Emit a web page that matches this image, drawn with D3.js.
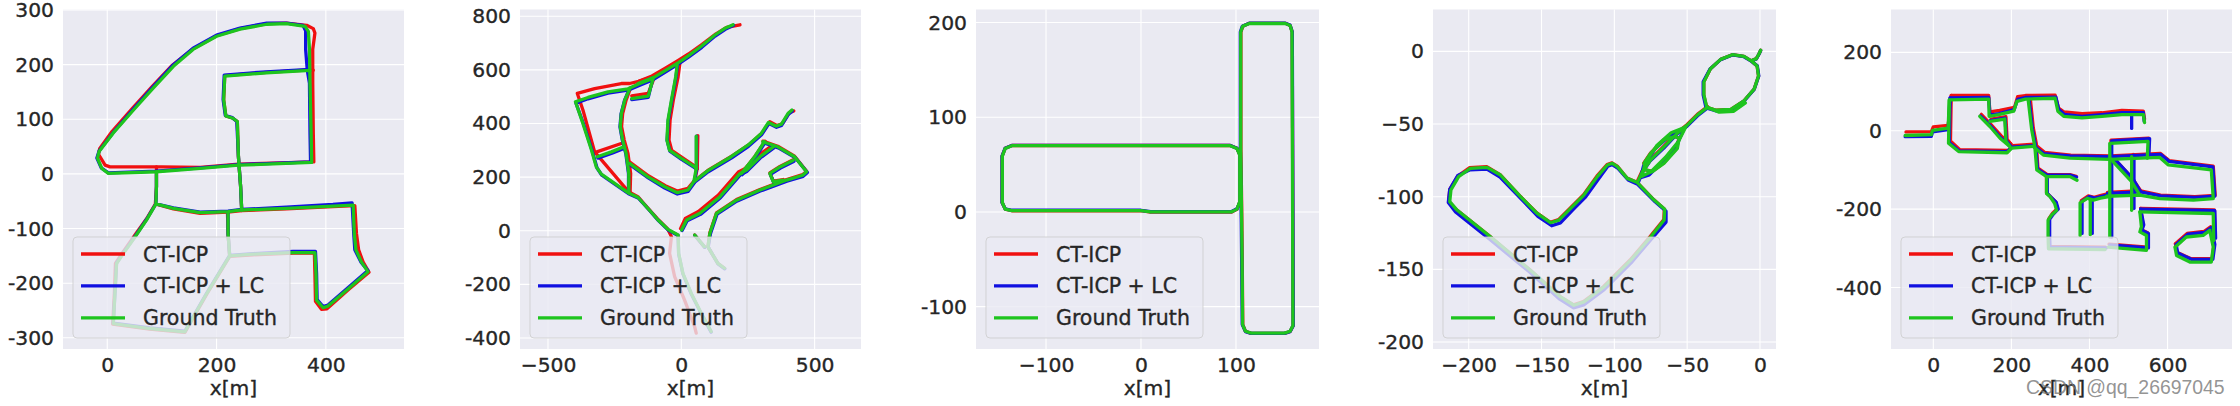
<!DOCTYPE html>
<html><head><meta charset="utf-8">
<script src="https://cdn.jsdelivr.net/npm/d3@7"></script>
<style>html,body{margin:0;padding:0;background:#fff;} svg{display:block;}</style>
</head><body><svg id="chart" width="2240" height="406"></svg>
<script>
// ---------------- DATA ----------------
const seriesNames = ["CT-ICP", "CT-ICP + LC", "Ground Truth"];

// Panel 1
const p1XLim = [-81, 543], p1YLim = [-320.5, 301];
const p1XTicks = [0, 200, 400], p1XLabels = ["0", "200", "400"];
const p1YTicks = [300, 200, 100, 0, -100, -200, -300];
const p1YLabels = ["300", "200", "100", "0", "-100", "-200", "-300"];
const p1Red = [
  [[99,13],[170,12],[240,18],[378,22],[377,75],[376,166],[376,228],[380,258],[377,266],[365,272],[328,276],[292,275],[243,266],[200,253],[157,229],[119,199],[82,160],[46,120],[9,78],[-14,46],[-16,36],[-4,16],[5,13],[99,13]],
  [[90,13],[90,-23],[88,-55],[121,-64],[170,-72],[221,-70],[246,-67],[328,-64],[413,-60],[453,-58],[456,-109],[460,-139],[468,-161],[479,-180],[441,-212],[402,-247],[392,-248],[381,-233],[380,-182],[379,-145],[340,-145],[267,-148],[224,-151],[182,-220],[142,-290],[78,-284],[10,-275],[13,-219],[15,-164],[28,-144],[52,-110],[72,-82],[88,-55]],
  [[224,-151],[221,-109],[220,-72]],
  [[246,-67],[244,-23],[241,17],[240,32],[238,96],[230,102],[217,106],[213,136],[215,180],[291,186],[363,190],[377,190]]
];
const p1Blue = [
  [[90,5],[170,11],[240,17],[372,22],[371,75],[370,166],[366,190],[363,228],[363,262],[358,272],[328,276],[292,276],[243,267],[200,254],[157,230],[121,200],[84,160],[48,119],[11,76],[-15,42],[-19,29],[-11,11],[2,2],[90,5]],
  [[90,5],[90,-23],[89,-55],[121,-62],[170,-70],[221,-68],[246,-65],[328,-61],[413,-56],[448,-53],[451,-109],[453,-139],[464,-161],[477,-177],[441,-208],[404,-240],[395,-243],[384,-230],[383,-182],[381,-142],[340,-142],[267,-146],[224,-149],[182,-218],[142,-288],[78,-282],[11,-273],[14,-219],[17,-163],[29,-145],[51,-114],[72,-83],[89,-55]],
  [[224,-149],[221,-109],[221,-71]],
  [[246,-65],[244,-23],[241,18],[240,32],[237,96],[229,103],[216,107],[212,136],[214,181],[291,187],[363,191],[367,191]]
];
const p1Green = [
  [[90,4],[170,10],[240,16],[374,21],[373,75],[371,166],[370,228],[368,261],[362,270],[328,275],[292,274],[243,265],[200,252],[157,228],[121,197],[84,157],[48,117],[11,75],[-15,41],[-18,29],[-10,10],[2,1],[90,4]],
  [[90,4],[90,-23],[89,-55],[121,-63],[170,-71],[221,-69],[246,-66],[328,-63],[413,-59],[450,-57],[452,-109],[455,-139],[465,-161],[477,-179],[441,-210],[404,-242],[395,-245],[383,-231],[382,-182],[380,-144],[340,-144],[267,-147],[224,-150],[182,-219],[142,-289],[78,-283],[11,-274],[14,-219],[17,-164],[29,-146],[51,-115],[72,-84],[89,-55]],
  [[224,-150],[221,-109],[221,-72]],
  [[246,-66],[244,-23],[241,17],[240,32],[238,96],[230,102],[217,106],[213,136],[215,179],[291,185],[363,189],[371,189]]
];

// Panel 2
const p2XLim = [-605, 674], p2YLim = [-441, 825];
const p2XTicks = [-500, 0, 500], p2XLabels = ["\u2212500", "0", "500"];
const p2YTicks = [800, 600, 400, 200, 0, -200, -400];
const p2YLabels = ["800", "600", "400", "200", "0", "-200", "-400"];
const p2Red = [
  [[56,-382],[50,-358],[12,-258],[-25,-171],[-44,-84],[-37,-22],[-52,8],[-89,44],[-127,86],[-163,127],[-198,146],[-219,170],[-325,294],[-369,450],[-390,512],[-325,530],[-225,549],[-194,549],[-160,557],[-110,577],[-60,606],[-10,636],[27,659],[78,695],[130,734],[170,758],[220,768]],
  [[-317,294],[-217,328]],
  [[-190,533],[-207,487],[-220,437],[-224,388],[-214,338],[-200,288],[-190,214],[-192,142]],
  [[-186,503],[-124,512],[-100,575],[-160,557]],
  [[-5,626],[-12,574],[-30,487],[-42,413],[-46,338],[-36,300],[8,270],[55,238],[60,232]],
  [[-192,255],[-122,204],[-60,168],[-15,148],[25,158],[50,188],[60,232]],
  [[62,355],[60,232]],
  [[50,186],[104,228],[192,280],[255,322],[305,366],[332,407],[360,392],[380,400],[405,440],[422,447]],
  [[-3,8],[15,46],[64,72],[139,133],[214,219],[240,232],[290,282],[342,318]],
  [[306,334],[362,315],[425,278],[470,222],[455,209],[395,191],[295,154],[207,116],[132,67],[107,-8],[100,-60],[137,-122],[162,-140]],
  [[314,334],[278,280],[228,216]],
  [[420,265],[370,240],[332,216],[345,185],[382,191]],
  [[50,-16],[87,-60]]
];
const p2Blue = [
  [[112,-378],[75,-310],[37,-235],[6,-161],[-10,-86],[-12,-18],[-48,2],[-85,37],[-123,80],[-160,121],[-198,138],[-298,207],[-316,234],[-334,297],[-366,396],[-395,476],[-350,492],[-275,513],[-200,524],[-160,541],[-110,561],[-60,592],[-10,622],[27,647],[77,684],[127,726],[165,751],[196,766]],
  [[-313,271],[-260,289],[-213,308]],
  [[-195,528],[-213,486],[-226,436],[-230,387],[-221,337],[-208,287],[-198,213],[-198,140]],
  [[-186,489],[-124,497],[-106,570],[-162,546]],
  [[-14,621],[-20,572],[-36,485],[-49,411],[-53,336],[-43,297],[1,266],[51,234],[57,229]],
  [[-194,247],[-124,197],[-62,159],[-15,137],[26,147],[49,179],[57,229]],
  [[57,353],[57,229]],
  [[49,180],[101,220],[189,272],[252,315],[302,359],[329,400],[357,386],[376,393],[401,433],[416,446]],
  [[3,1],[22,37],[72,61],[147,123],[222,209],[247,222],[297,272],[347,309]],
  [[308,328],[364,309],[428,272],[473,217],[457,203],[396,185],[296,148],[208,110],[134,62],[109,-12],[101,-61],[138,-124],[163,-142]],
  [[314,329],[277,272],[228,209]],
  [[423,259],[372,234],[334,210],[347,179],[384,185]],
  [[51,-18],[88,-62]]
];
const p2Green = [
  [[112,-376],[75,-308],[37,-233],[6,-159],[-10,-84],[-12,-16],[-50,5],[-87,40],[-125,83],[-162,124],[-200,142],[-300,211],[-319,238],[-337,301],[-369,400],[-397,481],[-350,497],[-275,518],[-200,529],[-162,546],[-112,566],[-62,596],[-12,626],[25,651],[75,688],[125,729],[162,754],[194,768]],
  [[-315,276],[-262,294],[-215,313]],
  [[-194,529],[-212,487],[-225,437],[-229,388],[-220,338],[-207,288],[-197,214],[-197,142]],
  [[-186,493],[-124,502],[-105,571],[-162,549]],
  [[-15,623],[-21,574],[-37,487],[-50,413],[-54,338],[-44,300],[0,270],[50,238],[56,232]],
  [[-194,251],[-125,201],[-62,164],[-15,142],[25,152],[47,183],[56,232]],
  [[56,353],[56,232]],
  [[47,183],[100,224],[187,276],[250,319],[300,363],[327,404],[356,390],[375,397],[400,437],[415,450]],
  [[1,3],[20,40],[70,65],[145,127],[220,213],[245,226],[295,276],[345,313]],
  [[306,332],[362,313],[425,276],[470,220],[455,207],[395,189],[295,152],[207,114],[132,65],[107,-10],[100,-60],[137,-122],[162,-140]],
  [[312,332],[275,276],[225,213]],
  [[420,263],[370,238],[332,214],[345,183],[382,189]],
  [[50,-16],[87,-60]]
];

// Panel 3
const p3XLim = [-173.7, 187.4], p3YLim = [-144.7, 213.8];
const p3XTicks = [-100, 0, 100], p3XLabels = ["\u2212100", "0", "100"];
const p3YTicks = [200, 100, 0, -100];
const p3YLabels = ["200", "100", "0", "-100"];
const p3Red = [
  [[10,-0.2],[95,-0.2],[101,2.8],[104.2,11],[104.2,60],[101,67.2],[94,70.2],[-136,70.2],[-143,67.2],[-146.2,59],[-146.2,10],[-143,3],[-136,1.3],[0,1.3],[10,-0.2]],
  [[105.2,66],[105.2,190],[107.2,196],[114,199.2],[152,199.2],[157,197],[159.2,190],[160.2,-120],[157,-126.2],[151,-128.2],[116,-128.2],[110,-126],[107.2,-119],[106.2,-10],[105.2,66]]
];
const p3Blue = [
  [[10,0.3],[95,0.3],[101,3.3],[104.3,11],[104.3,60],[101,67.3],[94,70.3],[-136,70.3],[-143,67.3],[-146.3,59],[-146.3,10],[-143,3.3],[-136,1.8],[0,1.8],[10,0.3]],
  [[104.6,66],[104.6,190],[106.6,196],[114,199.3],[152,199.3],[157,197.3],[159.3,190],[160.3,-120],[157,-126.3],[151,-128.3],[116,-128.3],[110,-126.3],[106.6,-119],[105.6,-10],[104.6,66]]
];
const p3Green = [
  [[10,0],[95,0],[101,3],[104,11],[104,60],[101,67],[94,70],[-136,70],[-143,67],[-146,59],[-146,10],[-143,3],[-136,1.5],[0,1.5],[10,0]],
  [[105,66],[105,190],[107,196],[114,199],[152,199],[157,197],[159,190],[160,-120],[157,-126],[151,-128],[116,-128],[110,-126],[107,-119],[106,-10],[105,66]]
];

// Panel 4
const p4XLim = [-224.5, 11], p4YLim = [-204.8, 28.8];
const p4XTicks = [-200, -150, -100, -50, 0];
const p4XLabels = ["\u2212200", "\u2212150", "\u2212100", "\u221250", "0"];
const p4YTicks = [0, -50, -100, -150, -200];
const p4YLabels = ["0", "\u221250", "-100", "-150", "-200"];
const p4Red = [
  [[0.5,0.8],[-0.8,-2],[-2.5,-5],[-6,-6.5],[-11,-3.5],[-19,-2.3],[-27,-5.5],[-34,-12],[-38.6,-21],[-38.6,-30],[-36.6,-38.5],[-30,-40.5],[-20,-40],[-11,-34],[-4,-26],[-1,-17],[-2,-10],[-6,-6.5]],
  [[-36,-38],[-43,-43.4],[-50,-50.3],[-57,-56],[-66,-65.2],[-75.2,-74.4],[-81,-82.5],[-84.5,-90],[-73,-102],[-65.7,-108.4],[-66,-115.8],[-75.3,-127.3],[-89,-143.4],[-107.3,-161.8],[-121.2,-172.1],[-128,-174.4],[-137.2,-168.7],[-158,-150.3],[-185.5,-127.3],[-208.5,-108.9],[-213.8,-103],[-213,-95],[-207.5,-85.8],[-199.3,-80],[-187.6,-79.4],[-178.4,-84.8],[-164.6,-99.7],[-153.2,-111.2],[-144,-117.6],[-138.3,-115.8],[-130.2,-107.7],[-121.1,-98.6],[-112,-85.9],[-105,-77.9],[-101.6,-76.7],[-98,-79],[-91.3,-87.1],[-84.5,-90]],
  [[-59,-58.4],[-66,-60.7],[-75.2,-70],[-79.8,-77],[-78.6,-81.5],[-74,-82.6],[-66,-76.8],[-57,-66.5],[-55.7,-59.6],[-59,-58.4]]
];
const p4Blue = [
  [[0.5,0.6],[-0.8,-2.2],[-2.5,-5.2],[-6,-6.7],[-11,-3.7],[-19,-2.5],[-27,-5.7],[-34.3,-12.2],[-39,-21],[-39,-30],[-37,-39],[-30,-41],[-20,-40.5],[-11,-34.3],[-4,-26.2],[-0.8,-17],[-1.8,-10],[-6,-6.7]],
  [[-36,-39],[-43,-44.5],[-50,-51.5],[-57,-57],[-66,-66.5],[-75.5,-75.5],[-81,-83.5],[-84,-91.5],[-72,-103.5],[-64.5,-110],[-64.5,-117.5],[-74.5,-129],[-88.5,-145.5],[-107,-164],[-121,-174.5],[-128,-176.5],[-137.5,-170.5],[-158,-152],[-186,-129],[-209,-110.5],[-214,-104],[-213,-95],[-207.5,-85.5],[-199,-81.5],[-187.5,-81],[-178.5,-86.5],[-164,-101.5],[-152.5,-113.5],[-143,-120],[-137,-118],[-129,-109.5],[-120,-100.5],[-111,-88],[-104.5,-79],[-101.5,-78],[-97.5,-80.5],[-90.5,-88.5],[-84,-91.5]],
  [[-52,-53],[-62,-58],[-72,-67],[-80,-79],[-82,-87],[-76,-85],[-66,-75],[-57,-64],[-52,-53]]
];
const p4Green = [
  [[0.5,0.8],[-0.8,-2],[-2.5,-5],[-6,-6.5],[-11,-3.5],[-19,-2.3],[-27,-5.5],[-34,-12],[-38.5,-21],[-38.5,-30],[-36.5,-38.5],[-30,-40.5],[-20,-40],[-11,-34],[-4,-26],[-1,-17],[-2,-10],[-6,-6.5]],
  [[-36.5,-38.5],[-28,-41.8],[-18,-41.2],[-10,-35.5]],
  [[-36,-38.4],[-42.9,-43.7],[-49.8,-50.6],[-56.7,-56.3],[-65.8,-65.5],[-75,-74.7],[-80.7,-82.8],[-84.2,-90.3],[-72.7,-102.3],[-65.4,-108.7],[-65.8,-116.1],[-75,-127.6],[-88.8,-143.7],[-107.1,-162.1],[-120.9,-172.4],[-127.8,-174.7],[-136.9,-169],[-157.6,-150.6],[-185.1,-127.6],[-208,-109.2],[-213,-103.4],[-212.2,-95.4],[-206.9,-86.2],[-198.9,-80.5],[-187.4,-79.8],[-178.2,-85.1],[-164.4,-100],[-153,-111.5],[-143.8,-117.9],[-138.1,-116.1],[-130,-108],[-120.9,-98.9],[-111.7,-86.2],[-104.8,-78.2],[-101.4,-77],[-97.9,-79.3],[-91.1,-87.4],[-84.2,-90.3]],
  [[-58.9,-58.6],[-65.8,-60.9],[-75,-70.1],[-79.6,-77],[-78.4,-81.6],[-73.9,-82.8],[-65.8,-77],[-56.7,-66.7],[-55.5,-59.8],[-58.9,-58.6]],
  [[-51,-52],[-61,-56],[-71,-65],[-79,-77],[-81,-86],[-75,-83],[-65,-73],[-56,-62],[-51,-52]]
];

// Panel 5
const p5XLim = [-108.3, 765], p5YLim = [-556.8, 309.5];
const p5XTicks = [0, 200, 400, 600], p5XLabels = ["0", "200", "400", "600"];
const p5YTicks = [200, 0, -200, -400];
const p5YLabels = ["200", "0", "-200", "-400"];
const p5Red = [
  [[-70,-3],[-5,-2],[0,10],[38,14],[46,90],[142,90],[145,48],[170,52],[208,60],[216,87],[236,90],[312,91],[321,58],[335,48],[381,44],[432,46],[483,52],[538,50],[541,30]],
  [[46,90],[44,-26],[68,-48],[192,-50],[204,-38],[259,-34]],
  [[123,42],[148,16],[174,-13],[199,-34]],
  [[148,30],[186,36],[189,-22],[199,-34]],
  [[248,87],[256,8],[264,-34],[268,-95],[292,-112],[350,-112],[366,-116]],
  [[259,-34],[285,-55],[352,-62],[455,-64],[582,-58],[604,-76],[717,-90],[722,-165],[670,-168],[582,-164],[531,-153],[446,-157]],
  [[455,-269],[455,-24],[552,-19],[551,-62]],
  [[455,-62],[509,-120],[531,-153]],
  [[512,-60],[512,-196]],
  [[531,-198],[720,-202],[722,-272]],
  [[531,-198],[537,-238],[532,-252],[549,-260],[549,-297],[450,-289]],
  [[379,-260],[379,-178],[397,-166],[412,-170],[430,-165],[459,-158]],
  [[620,-288],[650,-262],[693,-257],[710,-245],[719,-288],[714,-326],[659,-326],[624,-310],[620,-288]],
  [[290,-115],[290,-158],[298,-166],[313,-181],[318,-198],[305,-211],[296,-224],[296,-266],[297,-295],[441,-297]]
];
const p5Blue = [
  [[-72,-15],[-5,-14],[-2,-3],[38,3],[43,84],[142,85],[145,40],[168,44],[207,54],[216,80],[236,85],[314,86],[321,55],[335,42],[381,37],[432,41],[483,46],[538,46],[540,25]],
  [[508,38],[508,6]],
  [[43,84],[41,-30],[66,-51],[189,-53],[202,-42],[257,-38]],
  [[121,38],[146,13],[172,-17],[197,-38]],
  [[146,26],[184,32],[187,-25],[197,-38]],
  [[245,82],[254,4],[262,-38],[267,-98],[291,-113],[350,-113],[367,-118]],
  [[257,-38],[283,-58],[350,-64],[454,-66],[582,-60],[604,-78],[716,-92],[721,-167],[670,-170],[582,-166],[531,-156],[446,-160]],
  [[457,-271],[457,-26],[554,-20],[552,-64]],
  [[457,-64],[511,-122],[531,-156]],
  [[514,-62],[514,-198]],
  [[531,-200],[721,-204],[723,-274]],
  [[531,-200],[539,-240],[534,-254],[551,-262],[551,-299],[452,-291]],
  [[381,-262],[381,-180],[399,-168],[414,-172],[432,-167],[461,-160]],
  [[407,-172],[407,-262]],
  [[622,-290],[652,-264],[695,-259],[712,-247],[721,-290],[716,-328],[661,-328],[626,-312],[622,-290]],
  [[292,-117],[292,-160],[300,-168],[315,-183],[320,-200],[307,-213],[298,-226],[298,-268],[299,-297],[443,-299]]
];
const p5Green = [
  [[-72,-12],[-5,-10],[-2,1],[38,7],[41,79],[142,81],[143,37],[167,41],[206,50],[214,75],[236,81],[312,83],[319,50],[334,37],[381,33],[432,37],[483,41],[538,41],[541,21]],
  [[41,79],[39,-32],[65,-53],[189,-56],[201,-44],[256,-40]],
  [[119,37],[145,11],[171,-19],[196,-40]],
  [[145,24],[183,30],[186,-27],[196,-40]],
  [[243,79],[252,3],[260,-40],[265,-100],[290,-117],[350,-117],[368,-126]],
  [[256,-40],[282,-62],[350,-70],[452,-73],[580,-68],[602,-87],[712,-100],[717,-173],[666,-177],[580,-173],[529,-164],[444,-167]],
  [[452,-271],[452,-32],[550,-27],[548,-70]],
  [[452,-70],[508,-130],[529,-164]],
  [[508,-66],[508,-203]],
  [[529,-207],[717,-211],[718,-280]],
  [[529,-207],[533,-245],[529,-258],[546,-267],[546,-305],[448,-297]],
  [[376,-267],[376,-184],[395,-172],[410,-177],[428,-172],[457,-167]],
  [[402,-177],[402,-265]],
  [[619,-297],[648,-271],[691,-267],[708,-254],[717,-297],[712,-335],[657,-335],[623,-318],[619,-297]],
  [[290,-117],[290,-160],[299,-168],[311,-186],[316,-203],[303,-215],[294,-228],[294,-271],[295,-301],[440,-303]]
];

// ---------------- LAYOUT / STYLE ----------------
const FONT = "'DejaVu Sans', 'Liberation Sans', sans-serif";
const TOP = 9.5, BOTTOM = 349;
const COLORS = ["#f01010", "#1010e0", "#1ec41e"];
const TEXT = "#262626";
const panels = [
  {left: 63,   right: 404,  xLim: p1XLim, yLim: p1YLim, xTicks: p1XTicks, xLabels: p1XLabels, yTicks: p1YTicks, yLabels: p1YLabels, series: [p1Red, p1Blue, p1Green]},
  {left: 520,  right: 861,  xLim: p2XLim, yLim: p2YLim, xTicks: p2XTicks, xLabels: p2XLabels, yTicks: p2YTicks, yLabels: p2YLabels, series: [p2Red, p2Blue, p2Green]},
  {left: 976,  right: 1319, xLim: p3XLim, yLim: p3YLim, xTicks: p3XTicks, xLabels: p3XLabels, yTicks: p3YTicks, yLabels: p3YLabels, series: [p3Red, p3Blue, p3Green]},
  {left: 1433, right: 1776, xLim: p4XLim, yLim: p4YLim, xTicks: p4XTicks, xLabels: p4XLabels, yTicks: p4YTicks, yLabels: p4YLabels, series: [p4Red, p4Blue, p4Green]},
  {left: 1891, right: 2232, xLim: p5XLim, yLim: p5YLim, xTicks: p5XTicks, xLabels: p5XLabels, yTicks: p5YTicks, yLabels: p5YLabels, series: [p5Red, p5Blue, p5Green]}
];

const svg = d3.select("#chart");
svg.append("rect").attr("width", 2240).attr("height", 406).attr("fill", "#ffffff");
const defs = svg.append("defs");

function styleText(sel, size) {
  sel.attr("font-family", FONT).attr("font-size", size).attr("fill", TEXT)
    .attr("stroke", TEXT).attr("stroke-width", 0.35);
}

panels.forEach((p, pi) => {
  const x = d3.scaleLinear().domain(p.xLim).range([p.left, p.right]);
  const y = d3.scaleLinear().domain(p.yLim).range([BOTTOM, TOP]);
  const g = svg.append("g");

  g.append("rect").attr("x", p.left).attr("y", TOP)
    .attr("width", p.right - p.left).attr("height", BOTTOM - TOP).attr("fill", "#EAEAF2");

  // grid
  g.append("g").selectAll("line").data(p.xTicks).join("line")
    .attr("x1", d => x(d)).attr("x2", d => x(d)).attr("y1", TOP).attr("y2", BOTTOM)
    .attr("stroke", "#ffffff").attr("stroke-width", 1.1);
  g.append("g").selectAll("line").data(p.yTicks).join("line")
    .attr("y1", d => y(d)).attr("y2", d => y(d)).attr("x1", p.left).attr("x2", p.right)
    .attr("stroke", "#ffffff").attr("stroke-width", 1.1);

  const clipId = "clip" + pi;
  defs.append("clipPath").attr("id", clipId).append("rect")
    .attr("x", p.left).attr("y", TOP).attr("width", p.right - p.left).attr("height", BOTTOM - TOP);

  const line = d3.line().x(d => x(d[0])).y(d => y(d[1]));
  const lg = g.append("g").attr("clip-path", `url(#${clipId})`);
  p.series.forEach((segs, si) => {
    lg.append("g").selectAll("path").data(segs).join("path")
      .attr("d", line).attr("fill", "none").attr("stroke", COLORS[si])
      .attr("stroke-width", 3.3).attr("stroke-linejoin", "round").attr("stroke-linecap", "round");
  });

  // axes (labels only)
  const xa = g.append("g").attr("transform", `translate(0,${BOTTOM})`)
    .call(d3.axisBottom(x).tickValues(p.xTicks).tickFormat((d, i) => p.xLabels[i]).tickSize(0).tickPadding(9));
  const ya = g.append("g").attr("transform", `translate(${p.left},0)`)
    .call(d3.axisLeft(y).tickValues(p.yTicks).tickFormat((d, i) => p.yLabels[i]).tickSize(0).tickPadding(9));
  [xa, ya].forEach(a => {
    a.select(".domain").remove();
    styleText(a.selectAll("text"), 20.3);
  });

  // x label
  styleText(g.append("text").attr("x", (p.left + p.right) / 2).attr("y", 394.5)
    .attr("text-anchor", "middle").text("x[m]"), 20.3);

  // legend
  const lx = p.left + 10, ly = 237;
  const leg = g.append("g");
  leg.append("rect").attr("x", lx).attr("y", ly).attr("width", 217).attr("height", 101).attr("rx", 4)
    .attr("fill", "rgba(234,234,242,0.8)").attr("stroke", "rgba(204,204,204,0.8)").attr("stroke-width", 1);
  seriesNames.forEach((name, i) => {
    const ry = ly + 17 + i * 31.9;
    leg.append("line").attr("x1", lx + 8).attr("x2", lx + 52).attr("y1", ry).attr("y2", ry)
      .attr("stroke", COLORS[i]).attr("stroke-width", 3.3);
    styleText(leg.append("text").attr("x", lx + 70).attr("y", ry + 7.5).text(name), 20.5);
  });
});

// watermark
svg.append("text").attr("x", 2026).attr("y", 394)
  .attr("font-family", "'Liberation Sans', Arial, sans-serif").attr("font-size", 19.4)
  .attr("fill", "rgba(120,120,120,0.8)").text("CSDN @qq_26697045");
</script>
</body></html>
